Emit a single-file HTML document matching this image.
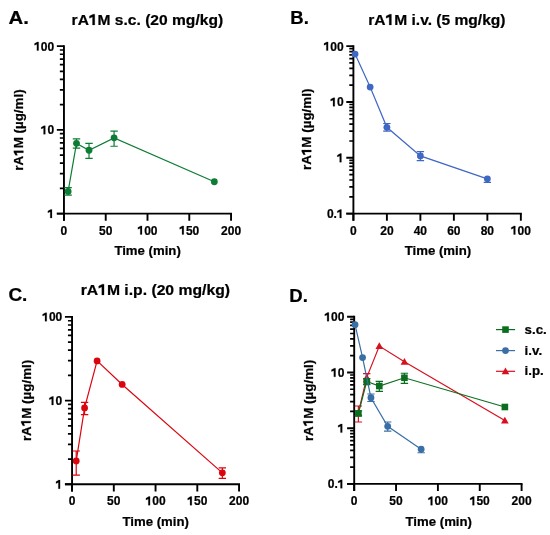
<!DOCTYPE html>
<html><head><meta charset="utf-8"><style>
html,body{margin:0;padding:0;background:#fff;}
svg{display:block;will-change:transform;}
text{font-family:"Liberation Sans", sans-serif;font-weight:bold;fill:#000;stroke:#000;stroke-width:0.22px;}
path.one{fill:#000;stroke:#000;stroke-width:0.22px;}
</style></head><body>
<svg width="550" height="535" viewBox="0 0 550 535">
<rect width="550" height="535" fill="#fff"/>
<text id="t0" x="8.5" y="23.5" text-anchor="start" font-size="18" textLength="20.3" lengthAdjust="spacingAndGlyphs">A.</text>
<text id="t1" x="71.6" y="24.9" text-anchor="start" font-size="15" textLength="151.5" lengthAdjust="spacingAndGlyphs">rA M s.c. (20 mg/kg)</text><path class="one" d="M94.75,24.9 L94.75,14.16 L93.11,14.16 L89.44,16.12 L89.44,18.3 L92.52,17.1 L92.52,24.9Z"/>
<path d="M63.95,45.2V220.7M56.85,213.6H232" stroke="#000" stroke-width="1.9" fill="none"/>
<path d="M56.85,213.6H63.95M56.85,129.88H63.95M56.85,46.15H63.95M63.95,213.6V220.7M105.73,213.6V220.7M147.5,213.6V220.7M189.28,213.6V220.7M231.05,213.6V220.7" stroke="#000" stroke-width="1.9" fill="none"/>
<path d="M59.85,188.4H63.95M59.85,173.65H63.95M59.85,163.19H63.95M59.85,155.08H63.95M59.85,148.45H63.95M59.85,142.84H63.95M59.85,137.99H63.95M59.85,133.71H63.95M59.85,104.67H63.95M59.85,89.93H63.95M59.85,79.47H63.95M59.85,71.35H63.95M59.85,64.72H63.95M59.85,59.12H63.95M59.85,54.26H63.95M59.85,49.98H63.95" stroke="#000" stroke-width="1.7" fill="none"/>
<text id="t2" x="63.95" y="234.5" text-anchor="middle" font-size="12">0</text>
<text id="t3" x="105.73" y="234.5" text-anchor="middle" font-size="12">50</text>
<text id="t4" x="147.5" y="234.5" text-anchor="middle" font-size="12"> 00</text><path class="one" d="M141.99,234.5 L141.99,225.91 L140.73,225.91 L137.91,227.48 L137.91,229.22 L140.27,228.26 L140.27,234.5Z"/>
<text id="t5" x="189.28" y="234.5" text-anchor="middle" font-size="12"> 50</text><path class="one" d="M183.77,234.5 L183.77,225.91 L182.51,225.91 L179.69,227.48 L179.69,229.22 L182.05,228.26 L182.05,234.5Z"/>
<text id="t6" x="231.05" y="234.5" text-anchor="middle" font-size="12">200</text>
<text id="t7" x="54.15" y="218" text-anchor="end" font-size="12"> </text><path class="one" d="M51.97,218 L51.97,209.41 L50.71,209.41 L47.88,210.98 L47.88,212.72 L50.25,211.76 L50.25,218Z"/>
<text id="t8" x="54.15" y="134.28" text-anchor="end" font-size="12"> 0</text><path class="one" d="M45.3,134.28 L45.3,125.69 L44.04,125.69 L41.21,127.26 L41.21,129 L43.58,128.04 L43.58,134.28Z"/>
<text id="t9" x="54.15" y="50.55" text-anchor="end" font-size="12"> 00</text><path class="one" d="M38.63,50.55 L38.63,41.96 L37.37,41.96 L34.54,43.53 L34.54,45.27 L36.91,44.31 L36.91,50.55Z"/>
<text id="t10" x="147.6" y="254.8" text-anchor="middle" font-size="13.2">Time (min)</text>
<g transform="translate(23.4,130) rotate(-90)"><text id="t11" x="0" y="0" text-anchor="middle" font-size="13.4">rA M (µg/ml)</text><path class="one" d="M-20.78,0 L-20.78,-9.59 L-22.19,-9.59 L-25.34,-7.84 L-25.34,-5.9 L-22.7,-6.97 L-22.7,0Z"/></g>
<polyline points="68.13,191.43 76.48,143.37 89.02,150.25 114.08,137.85 214.34,181.77" fill="none" stroke="#0d7c35" stroke-width="1.2"/>
<path d="M68.13,187.68V195.17M64.43,187.68H71.83M64.43,195.17H71.83M76.48,138.91V148.21M72.78,138.91H80.18M72.78,148.21H80.18M89.02,143.37V158.35M85.32,143.37H92.72M85.32,158.35H92.72M114.08,131.06V146.27M110.38,131.06H117.78M110.38,146.27H117.78" stroke="#0d7c35" stroke-width="1.2" fill="none"/>
<circle cx="68.13" cy="191.43" r="3.4" fill="#0d7c35"/>
<circle cx="76.48" cy="143.37" r="3.4" fill="#0d7c35"/>
<circle cx="89.02" cy="150.25" r="3.4" fill="#0d7c35"/>
<circle cx="114.08" cy="137.85" r="3.4" fill="#0d7c35"/>
<circle cx="214.34" cy="181.77" r="3.4" fill="#0d7c35"/>
<text id="t12" x="290.3" y="23.9" text-anchor="start" font-size="18" textLength="18.5" lengthAdjust="spacingAndGlyphs">B.</text>
<text id="t13" x="368.3" y="24.9" text-anchor="start" font-size="15" textLength="137.2" lengthAdjust="spacingAndGlyphs">rA M i.v. (5 mg/kg)</text><path class="one" d="M391.43,24.9 L391.43,14.16 L389.79,14.16 L386.13,16.12 L386.13,18.3 L389.2,17.1 L389.2,24.9Z"/>
<path d="M353.4,45.2V220.7M346.3,213.6H521.8" stroke="#000" stroke-width="1.9" fill="none"/>
<path d="M346.3,213.6H353.4M346.3,157.78H353.4M346.3,101.97H353.4M346.3,46.15H353.4M353.4,213.6V220.7M386.89,213.6V220.7M420.38,213.6V220.7M453.87,213.6V220.7M487.36,213.6V220.7M520.85,213.6V220.7" stroke="#000" stroke-width="1.9" fill="none"/>
<path d="M349.3,196.8H353.4M349.3,186.97H353.4M349.3,180H353.4M349.3,174.59H353.4M349.3,170.17H353.4M349.3,166.43H353.4M349.3,163.19H353.4M349.3,160.34H353.4M349.3,140.98H353.4M349.3,131.15H353.4M349.3,124.18H353.4M349.3,118.77H353.4M349.3,114.35H353.4M349.3,110.61H353.4M349.3,107.38H353.4M349.3,104.52H353.4M349.3,85.16H353.4M349.3,75.34H353.4M349.3,68.36H353.4M349.3,62.95H353.4M349.3,58.53H353.4M349.3,54.8H353.4M349.3,51.56H353.4M349.3,48.7H353.4" stroke="#000" stroke-width="1.7" fill="none"/>
<text id="t14" x="353.4" y="234.5" text-anchor="middle" font-size="12">0</text>
<text id="t15" x="386.89" y="234.5" text-anchor="middle" font-size="12">20</text>
<text id="t16" x="420.38" y="234.5" text-anchor="middle" font-size="12">40</text>
<text id="t17" x="453.87" y="234.5" text-anchor="middle" font-size="12">60</text>
<text id="t18" x="487.36" y="234.5" text-anchor="middle" font-size="12">80</text>
<text id="t19" x="520.85" y="234.5" text-anchor="middle" font-size="12"> 00</text><path class="one" d="M515.34,234.5 L515.34,225.91 L514.08,225.91 L511.26,227.48 L511.26,229.22 L513.62,228.26 L513.62,234.5Z"/>
<text id="t20" x="343.6" y="218" text-anchor="end" font-size="12">0. </text><path class="one" d="M341.42,218 L341.42,209.41 L340.16,209.41 L337.33,210.98 L337.33,212.72 L339.7,211.76 L339.7,218Z"/>
<text id="t21" x="343.6" y="162.18" text-anchor="end" font-size="12"> </text><path class="one" d="M341.42,162.18 L341.42,153.59 L340.16,153.59 L337.33,155.16 L337.33,156.9 L339.7,155.94 L339.7,162.18Z"/>
<text id="t22" x="343.6" y="106.37" text-anchor="end" font-size="12"> 0</text><path class="one" d="M334.75,106.37 L334.75,97.78 L333.49,97.78 L330.66,99.35 L330.66,101.09 L333.03,100.13 L333.03,106.37Z"/>
<text id="t23" x="343.6" y="50.55" text-anchor="end" font-size="12"> 00</text><path class="one" d="M328.08,50.55 L328.08,41.96 L326.82,41.96 L323.99,43.53 L323.99,45.27 L326.36,44.31 L326.36,50.55Z"/>
<text id="t24" x="437.95" y="254.8" text-anchor="middle" font-size="13.2">Time (min)</text>
<g transform="translate(311.3,129.3) rotate(-90)"><text id="t25" x="0" y="0" text-anchor="middle" font-size="13.4">rA M (µg/ml)</text><path class="one" d="M-20.78,0 L-20.78,-9.59 L-22.19,-9.59 L-25.34,-7.84 L-25.34,-5.9 L-22.7,-6.97 L-22.7,0Z"/></g>
<polyline points="355.07,54.08 370.14,87.05 386.89,127.28 420.38,155.92 487.36,178.87" fill="none" stroke="#3f67c4" stroke-width="1.2"/>
<path d="M386.89,123.52V131.07M383.19,123.52H390.59M383.19,131.07H390.59M420.38,151.61V160.64M416.68,151.61H424.08M416.68,160.64H424.08M487.36,178.87V182.41M483.66,182.41H491.06" stroke="#3f67c4" stroke-width="1.2" fill="none"/>
<circle cx="355.07" cy="54.08" r="3.4" fill="#3f67c4"/>
<circle cx="370.14" cy="87.05" r="3.4" fill="#3f67c4"/>
<circle cx="386.89" cy="127.28" r="3.4" fill="#3f67c4"/>
<circle cx="420.38" cy="155.92" r="3.4" fill="#3f67c4"/>
<circle cx="487.36" cy="178.87" r="3.4" fill="#3f67c4"/>
<text id="t26" x="8.4" y="301.1" text-anchor="start" font-size="18" textLength="19" lengthAdjust="spacingAndGlyphs">C.</text>
<text id="t27" x="80.7" y="294.9" text-anchor="start" font-size="15" textLength="149.3" lengthAdjust="spacingAndGlyphs">rA M i.p. (20 mg/kg)</text><path class="one" d="M104.05,294.9 L104.05,284.16 L102.4,284.16 L98.7,286.12 L98.7,288.3 L101.8,287.1 L101.8,294.9Z"/>
<path d="M72.05,315.95V491.4M64.95,484.3H240" stroke="#000" stroke-width="1.9" fill="none"/>
<path d="M64.95,484.3H72.05M64.95,400.6H72.05M64.95,316.9H72.05M72.05,484.3V491.4M113.8,484.3V491.4M155.55,484.3V491.4M197.3,484.3V491.4M239.05,484.3V491.4" stroke="#000" stroke-width="1.9" fill="none"/>
<path d="M67.95,459.1H72.05M67.95,444.36H72.05M67.95,433.91H72.05M67.95,425.8H72.05M67.95,419.17H72.05M67.95,413.57H72.05M67.95,408.71H72.05M67.95,404.43H72.05M67.95,375.4H72.05M67.95,360.66H72.05M67.95,350.21H72.05M67.95,342.1H72.05M67.95,335.47H72.05M67.95,329.87H72.05M67.95,325.01H72.05M67.95,320.73H72.05" stroke="#000" stroke-width="1.7" fill="none"/>
<text id="t28" x="72.05" y="505.2" text-anchor="middle" font-size="12">0</text>
<text id="t29" x="113.8" y="505.2" text-anchor="middle" font-size="12">50</text>
<text id="t30" x="155.55" y="505.2" text-anchor="middle" font-size="12"> 00</text><path class="one" d="M150.04,505.2 L150.04,496.61 L148.78,496.61 L145.96,498.18 L145.96,499.92 L148.32,498.96 L148.32,505.2Z"/>
<text id="t31" x="197.3" y="505.2" text-anchor="middle" font-size="12"> 50</text><path class="one" d="M191.79,505.2 L191.79,496.61 L190.53,496.61 L187.71,498.18 L187.71,499.92 L190.07,498.96 L190.07,505.2Z"/>
<text id="t32" x="239.05" y="505.2" text-anchor="middle" font-size="12">200</text>
<text id="t33" x="62.25" y="488.7" text-anchor="end" font-size="12"> </text><path class="one" d="M60.07,488.7 L60.07,480.11 L58.81,480.11 L55.98,481.68 L55.98,483.42 L58.35,482.46 L58.35,488.7Z"/>
<text id="t34" x="62.25" y="405" text-anchor="end" font-size="12"> 0</text><path class="one" d="M53.4,405 L53.4,396.41 L52.14,396.41 L49.31,397.98 L49.31,399.72 L51.68,398.76 L51.68,405Z"/>
<text id="t35" x="62.25" y="321.3" text-anchor="end" font-size="12"> 00</text><path class="one" d="M46.73,321.3 L46.73,312.71 L45.47,312.71 L42.64,314.28 L42.64,316.02 L45.01,315.06 L45.01,321.3Z"/>
<text id="t36" x="155.7" y="525.5" text-anchor="middle" font-size="13.2">Time (min)</text>
<g transform="translate(30.7,400.4) rotate(-90)"><text id="t37" x="0" y="0" text-anchor="middle" font-size="13.4">rA M (µg/ml)</text><path class="one" d="M-20.78,0 L-20.78,-9.59 L-22.19,-9.59 L-25.34,-7.84 L-25.34,-5.9 L-22.7,-6.97 L-22.7,0Z"/></g>
<polyline points="76.22,460.97 84.58,407.95 97.1,360.91 122.15,384.44 222.35,472.86" fill="none" stroke="#db0510" stroke-width="1.2"/>
<path d="M76.22,450.99V475.04M72.52,450.99H79.92M72.52,475.04H79.92M84.58,402.43V414.67M80.88,402.43H88.28M80.88,414.67H88.28M222.35,467.9V478.41M218.65,467.9H226.05M218.65,478.41H226.05" stroke="#db0510" stroke-width="1.2" fill="none"/>
<circle cx="76.22" cy="460.97" r="3.4" fill="#db0510"/>
<circle cx="84.58" cy="407.95" r="3.4" fill="#db0510"/>
<circle cx="97.1" cy="360.91" r="3.4" fill="#db0510"/>
<circle cx="122.15" cy="384.44" r="3.4" fill="#db0510"/>
<circle cx="222.35" cy="472.86" r="3.4" fill="#db0510"/>
<text id="t38" x="289.3" y="301.5" text-anchor="start" font-size="18" textLength="18.5" lengthAdjust="spacingAndGlyphs">D.</text>
<path d="M354.2,315.8V491M347.1,483.9H522.55" stroke="#000" stroke-width="1.9" fill="none"/>
<path d="M347.1,483.9H354.2M347.1,428.18H354.2M347.1,372.47H354.2M347.1,316.75H354.2M354.2,483.9V491M396.05,483.9V491M437.9,483.9V491M479.75,483.9V491M521.6,483.9V491" stroke="#000" stroke-width="1.9" fill="none"/>
<path d="M350.1,467.13H354.2M350.1,457.32H354.2M350.1,450.36H354.2M350.1,444.96H354.2M350.1,440.54H354.2M350.1,436.81H354.2M350.1,433.58H354.2M350.1,430.73H354.2M350.1,411.41H354.2M350.1,401.6H354.2M350.1,394.64H354.2M350.1,389.24H354.2M350.1,384.83H354.2M350.1,381.1H354.2M350.1,377.87H354.2M350.1,375.02H354.2M350.1,355.69H354.2M350.1,345.88H354.2M350.1,338.92H354.2M350.1,333.52H354.2M350.1,329.11H354.2M350.1,325.38H354.2M350.1,322.15H354.2M350.1,319.3H354.2" stroke="#000" stroke-width="1.7" fill="none"/>
<text id="t39" x="354.2" y="505.2" text-anchor="middle" font-size="12">0</text>
<text id="t40" x="396.05" y="505.2" text-anchor="middle" font-size="12">50</text>
<text id="t41" x="437.9" y="505.2" text-anchor="middle" font-size="12"> 00</text><path class="one" d="M432.39,505.2 L432.39,496.61 L431.13,496.61 L428.31,498.18 L428.31,499.92 L430.67,498.96 L430.67,505.2Z"/>
<text id="t42" x="479.75" y="505.2" text-anchor="middle" font-size="12"> 50</text><path class="one" d="M474.24,505.2 L474.24,496.61 L472.98,496.61 L470.16,498.18 L470.16,499.92 L472.52,498.96 L472.52,505.2Z"/>
<text id="t43" x="521.6" y="505.2" text-anchor="middle" font-size="12">200</text>
<text id="t44" x="344.4" y="488.3" text-anchor="end" font-size="12">0. </text><path class="one" d="M342.22,488.3 L342.22,479.71 L340.96,479.71 L338.13,481.28 L338.13,483.02 L340.5,482.06 L340.5,488.3Z"/>
<text id="t45" x="344.4" y="432.58" text-anchor="end" font-size="12"> </text><path class="one" d="M342.22,432.58 L342.22,423.99 L340.96,423.99 L338.13,425.56 L338.13,427.3 L340.5,426.34 L340.5,432.58Z"/>
<text id="t46" x="344.4" y="376.87" text-anchor="end" font-size="12"> 0</text><path class="one" d="M335.55,376.87 L335.55,368.28 L334.29,368.28 L331.46,369.85 L331.46,371.59 L333.83,370.63 L333.83,376.87Z"/>
<text id="t47" x="344.4" y="321.15" text-anchor="end" font-size="12"> 00</text><path class="one" d="M328.88,321.15 L328.88,312.56 L327.62,312.56 L324.79,314.13 L324.79,315.87 L327.16,314.91 L327.16,321.15Z"/>
<text id="t48" x="438.75" y="525.5" text-anchor="middle" font-size="13.2">Time (min)</text>
<g transform="translate(312.8,400.4) rotate(-90)"><text id="t49" x="0" y="0" text-anchor="middle" font-size="13.4">rA M (µg/ml)</text><path class="one" d="M-20.78,0 L-20.78,-9.59 L-22.19,-9.59 L-25.34,-7.84 L-25.34,-5.9 L-22.7,-6.97 L-22.7,0Z"/></g>
<polyline points="358.38,412.65 366.75,377.36 379.31,346.04 404.42,361.71 504.86,420.57" fill="none" stroke="#d7101f" stroke-width="1.2"/>
<path d="M358.38,406.01V422.02M354.69,406.01H362.08M354.69,422.02H362.08M366.75,373.68V381.83M363.06,373.68H370.45M363.06,381.83H370.45" stroke="#d7101f" stroke-width="1.2" fill="none"/>
<polygon points="358.38,408.95 354.58,415.65 362.19,415.65" fill="#d7101f"/>
<polygon points="366.75,373.66 362.95,380.36 370.56,380.36" fill="#d7101f"/>
<polygon points="379.31,342.34 375.51,349.04 383.11,349.04" fill="#d7101f"/>
<polygon points="404.42,358.01 400.62,364.71 408.22,364.71" fill="#d7101f"/>
<polygon points="504.86,416.87 501.06,423.57 508.66,423.57" fill="#d7101f"/>
<polyline points="358.38,413.43 366.75,381.45 379.31,386.03 404.42,377.78 504.86,407" fill="none" stroke="#0b6e1f" stroke-width="1.2"/>
<path d="M358.38,410.93V415.92M354.69,410.93H362.08M354.69,415.92H362.08M366.75,378.48V384.67M363.06,378.48H370.45M363.06,384.67H370.45M379.31,381.45V391.42M375.61,381.45H383.01M375.61,391.42H383.01M404.42,373.25V383.38M400.72,373.25H408.12M400.72,383.38H408.12" stroke="#0b6e1f" stroke-width="1.2" fill="none"/>
<rect x="355.08" y="410.13" width="6.6" height="6.6" fill="#0b6e1f"/>
<rect x="363.45" y="378.15" width="6.6" height="6.6" fill="#0b6e1f"/>
<rect x="376.01" y="382.73" width="6.6" height="6.6" fill="#0b6e1f"/>
<rect x="401.12" y="374.48" width="6.6" height="6.6" fill="#0b6e1f"/>
<rect x="501.56" y="403.7" width="6.6" height="6.6" fill="#0b6e1f"/>
<polyline points="355.04,324.67 362.57,357.58 370.94,397.73 387.68,426.32 421.16,449.23" fill="none" stroke="#3a6fa6" stroke-width="1.2"/>
<path d="M370.94,393.98V401.52M367.24,393.98H374.64M367.24,401.52H374.64M387.68,422.02V431.03M383.98,422.02H391.38M383.98,431.03H391.38M421.16,449.23V452.77M417.46,452.77H424.86" stroke="#3a6fa6" stroke-width="1.2" fill="none"/>
<circle cx="355.04" cy="324.67" r="3.4" fill="#3a6fa6"/>
<circle cx="362.57" cy="357.58" r="3.4" fill="#3a6fa6"/>
<circle cx="370.94" cy="397.73" r="3.4" fill="#3a6fa6"/>
<circle cx="387.68" cy="426.32" r="3.4" fill="#3a6fa6"/>
<circle cx="421.16" cy="449.23" r="3.4" fill="#3a6fa6"/>
<line x1="496" y1="329.6" x2="515.1" y2="329.6" stroke="#0b6e1f" stroke-width="1.2"/>
<rect x="502.2" y="326.3" width="6.6" height="6.6" fill="#0b6e1f"/>
<text id="t50" x="524.6" y="334.2" text-anchor="start" font-size="13.3">s.c.</text>
<line x1="496" y1="350.6" x2="515.1" y2="350.6" stroke="#3a6fa6" stroke-width="1.2"/>
<circle cx="505.5" cy="350.6" r="3.4" fill="#3a6fa6"/>
<text id="t51" x="524.6" y="355.3" text-anchor="start" font-size="13.3">i.v.</text>
<line x1="496" y1="371.3" x2="515.1" y2="371.3" stroke="#d7101f" stroke-width="1.2"/>
<polygon points="505.5,367.6 501.7,374.3 509.3,374.3" fill="#d7101f"/>
<text id="t52" x="524.6" y="375.4" text-anchor="start" font-size="13.3">i.p.</text>
</svg>
</body></html>
